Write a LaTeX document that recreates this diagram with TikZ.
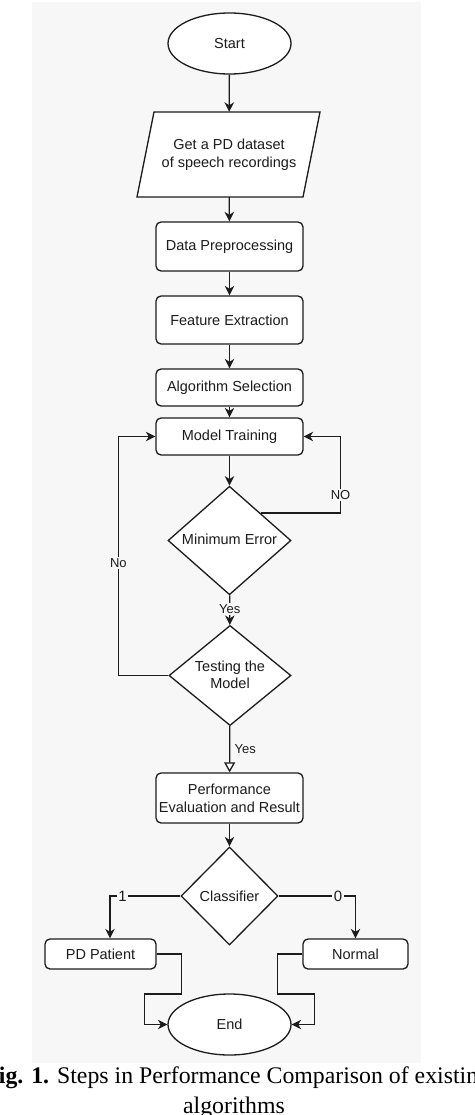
\documentclass[tikz,border=0pt]{standalone}
\usepackage{fontspec}
\setmainfont{Liberation Sans}
\newfontfamily\capfont{Liberation Serif}
\usetikzlibrary{shapes.geometric,arrows.meta,calc}
\definecolor{bgc}{HTML}{F7F7F7}
\definecolor{ink}{HTML}{1C1C1C}
\begin{document}
\begin{tikzpicture}[x=1pt,y=-1pt,
  every node/.style={font=\fontsize{14.5}{18}\selectfont, text=ink},
  box/.style={draw=ink, line width=1.3pt, rounded corners=5pt, fill=white,
    minimum width=147pt, inner sep=0pt, align=center},
  term/.style={draw=ink, line width=1.3pt, ellipse, fill=white,
    minimum width=123pt, minimum height=61pt, inner sep=0pt},
  dec/.style={draw=ink, line width=1.3pt, diamond, fill=white, inner sep=0pt, align=center},
  iotext/.style={inner sep=0pt, minimum width=150pt, minimum height=85pt, align=center},
  flow/.style={draw=ink, line width=1.3pt, -{Stealth[length=9.5pt,width=9.5pt,inset=3pt]}},
  hollow/.style={draw=ink, line width=1.3pt, -{Triangle[open,length=10pt,width=11pt,fill=white]}},
  lbl/.style={font=\fontsize{13}{15}\selectfont, fill=bgc, inner sep=1.5pt},
  dig/.style={font=\fontsize{15}{17}\selectfont, fill=bgc, inner sep=1.5pt},
  capt/.style={font=\capfont\fontsize{23.8}{28}\selectfont, text=black, inner sep=0pt}
]
\useasboundingbox (0,0) rectangle (474,1115);
\clip (0,0) rectangle (474,1115);
\fill[white] (0,0) rectangle (474,1115);
\fill[bgc] (32,2) rectangle (421,1063);

% nodes
\node[term] (start) at (229.5,43.5) {Start};
\node[iotext] (data) at (229,154.5) {};
\draw[ink, line width=1.3pt, fill=white]
  ($(data.center)+(-75,-42.5)$) -- ($(data.center)+(91,-42.5)$) --
  ($(data.center)+(74,42.5)$) -- ($(data.center)+(-92,42.5)$) -- cycle;
\node[iotext] (datatext) at (data.center) {Get a PD dataset\\of speech recordings};
\node[box, minimum height=49pt] (pre) at (229.5,246.5) {Data Preprocessing};
\node[box, minimum height=48pt] (fe) at (229.5,320) {Feature Extraction};
\node[box, minimum height=37pt] (as) at (229.5,387.5) {Algorithm Selection};
\node[box, minimum height=37pt] (mt) at (229.5,436.5) {Model Training};
\node[dec, minimum width=123pt, minimum height=97pt] (me) at (229.5,540.5) {\raisebox{3pt}{Minimum Error}};
\node[dec, minimum width=122pt, minimum height=97pt] (tm) at (230,675.5) {\raisebox{2pt}{\shortstack{Testing the\\[1pt]Model}}};
\node[box, minimum height=50pt] (pe) at (229.5,798) {Performance\\Evaluation and Result};
\node[dec, minimum width=97pt, minimum height=98pt] (cl) at (229.5,896) {Classifier};
\node[box, minimum width=111pt, minimum height=30pt] (pd) at (100.5,954) {PD Patient};
\node[box, minimum width=105pt, minimum height=30pt] (nm) at (355.5,954) {Normal};
\node[term] (end) at (229.5,1024.5) {End};

% connectors
\draw[flow] (start) -- (data);
\draw[flow] (data) -- (pre);
\draw[flow] (pre) -- (fe);
\draw[flow] (fe) -- (as);
\draw[flow] (as) -- (mt);
\draw[flow] (mt) -- (me);
\draw[flow] (me) -- node[lbl, pos=0.47] {Yes} (tm);
\draw[hollow] (tm) -- node[right=1pt, pos=0.5, font=\fontsize{13}{15}\selectfont] {Yes} (pe);
\draw[flow] (pe) -- (cl);
\draw[flow] ($(me.north)!0.5!(me.east)$) -- ++(80,0) |- node[lbl, pos=0.12] {NO} (mt.east);
\draw[flow] (tm.west) -- ++(-50,0) |- node[lbl, pos=0.235] {No} (mt.west);
\draw[flow] (cl.west) -| node[dig, pos=0.41] {1} ([xshift=9.5pt]pd.north);
\draw[flow] (cl.east) -| node[dig, pos=0.387] {0} (nm.north);
\draw[flow] (pd.east) -- ++(25,0) -- ++(0,40) -- ++(-37,0) |- (end.west);
\draw[flow] (nm.west) -- ++(-25,0) -- ++(0,40) -- ++(37,0) |- (end.east);

% caption (cropped at the picture's edges, as in the reference)
\node[capt, anchor=base west] (cap1) at (-15.8,1083) {\textbf{Fig. 1.} Steps in Performance Comparison of existing};
\node[capt, anchor=base] (cap2) at (234,1113) {algorithms};
\end{tikzpicture}
\end{document}
